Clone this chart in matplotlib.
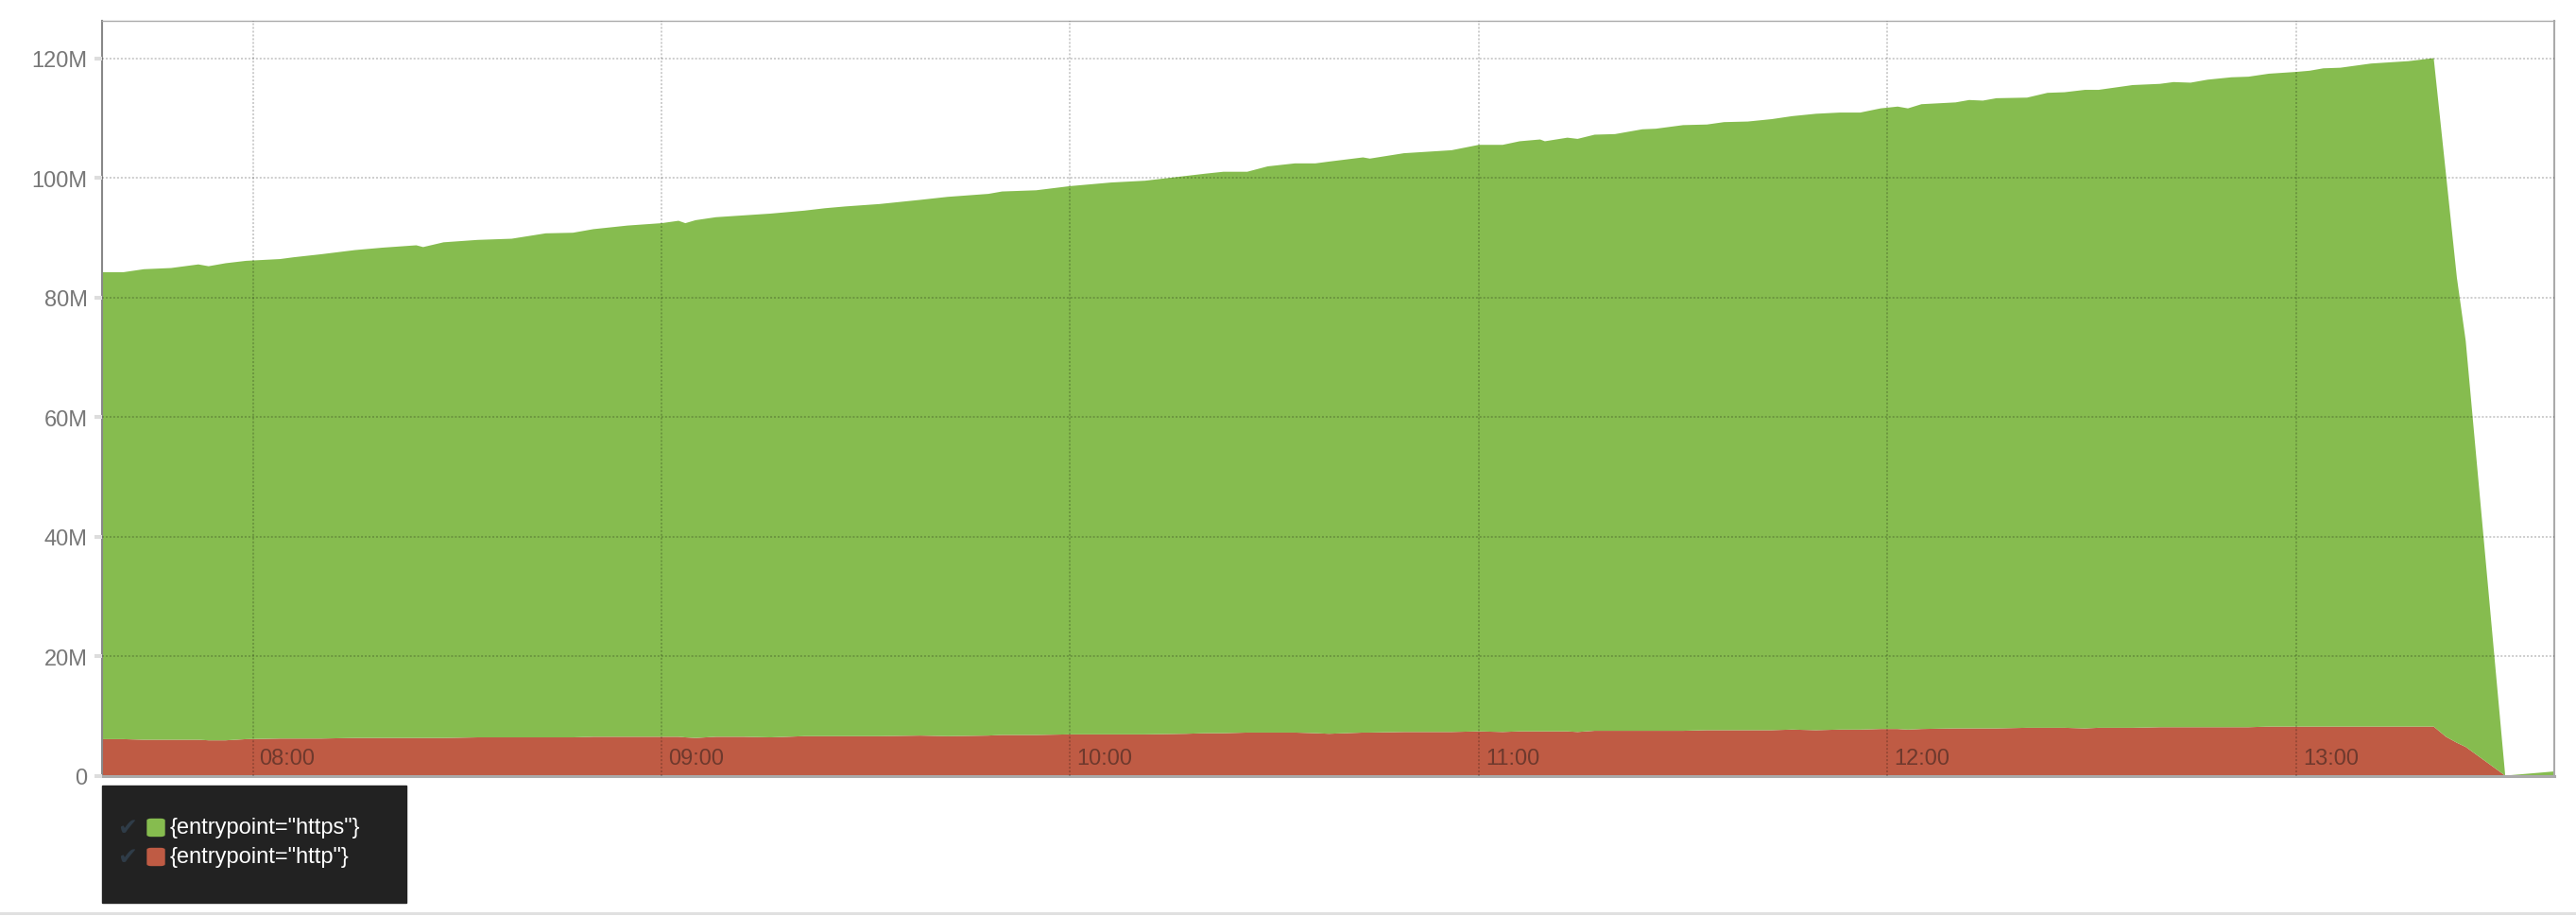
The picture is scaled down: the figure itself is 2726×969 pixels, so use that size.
"""
Stacked area chart of requests per entrypoint (https / http), Prometheus style.

Output: out.png
"""
import matplotlib
matplotlib.use("Agg")
import matplotlib.pyplot as plt
import matplotlib.patches as mpatches
from matplotlib.lines import Line2D
from matplotlib.transforms import ScaledTranslation
from matplotlib.ticker import FuncFormatter

plt.rcParams['font.family'] = ['Liberation Sans', 'DejaVu Sans']

# Sample times, minutes after midnight
minutes = [
    457.9, 461, 464, 468, 472, 473.5, 476, 479, 484, 486,
    490, 495, 499, 504, 505, 508, 513, 518, 523, 527,
    530, 535, 540, 542.5, 543.5, 545, 548, 552, 556, 561,
    564, 567, 572, 578, 582, 588, 590, 595, 600, 606,
    611, 617, 620, 622.5, 626, 629, 633, 636, 638, 643,
    644, 649, 656, 660, 663.5, 666, 669, 669.7, 673, 674.5,
    677, 680, 684, 686, 690, 693.5, 696, 699.5, 703, 706,
    709.5, 713, 716, 719, 721.5, 723, 725, 730, 732, 734,
    736, 740.5, 743.5, 746, 749, 751, 756, 760, 762, 764.5,
    767, 770.5, 773, 776, 780, 782, 784, 786.5, 791, 796.5,
    800.2, 802, 803.6, 804.9, 810.7, 817.9,
]

# {entrypoint="http"} in millions
http_m = [
    6.1, 6.1, 6.0, 6.0, 6.0, 5.9, 5.9, 6.1, 6.2, 6.2,
    6.2, 6.3, 6.3, 6.3, 6.3, 6.3, 6.4, 6.4, 6.4, 6.4,
    6.5, 6.5, 6.5, 6.5, 6.4, 6.3, 6.5, 6.5, 6.4, 6.6,
    6.6, 6.6, 6.6, 6.7, 6.6, 6.7, 6.8, 6.8, 6.9, 6.9,
    6.9, 7.0, 7.1, 7.1, 7.2, 7.2, 7.2, 7.1, 7.0, 7.2,
    7.2, 7.3, 7.3, 7.4, 7.3, 7.4, 7.4, 7.4, 7.4, 7.3,
    7.5, 7.5, 7.5, 7.5, 7.5, 7.6, 7.6, 7.6, 7.6, 7.7,
    7.6, 7.7, 7.7, 7.8, 7.8, 7.7, 7.8, 7.9, 7.9, 7.9,
    7.9, 8.0, 8.0, 8.0, 7.9, 8.0, 8.0, 8.1, 8.1, 8.1,
    8.1, 8.1, 8.1, 8.2, 8.2, 8.2, 8.2, 8.2, 8.2, 8.2,
    8.2, 6.5, 5.5, 4.8, 0.0, 0.0,
]

# {entrypoint="https"} in millions
https_m = [
    78.1, 78.1, 78.7, 78.9, 79.5, 79.3, 79.8, 80.0, 80.2, 80.5,
    81.0, 81.6, 82.0, 82.4, 82.1, 82.9, 83.2, 83.4, 84.3, 84.4,
    84.9, 85.5, 85.9, 86.3, 86.0, 86.6, 86.9, 87.2, 87.6, 87.9,
    88.3, 88.6, 89.0, 89.6, 90.2, 90.6, 90.9, 91.1, 91.7, 92.3,
    92.6, 93.3, 93.6, 93.9, 93.8, 94.7, 95.2, 95.3, 95.7, 96.2,
    96.0, 96.8, 97.3, 98.1, 98.2, 98.7, 99.0, 98.7, 99.3, 99.2,
    99.7, 99.8, 100.6, 100.7, 101.3, 101.3, 101.7, 101.8, 102.2, 102.6,
    103.1, 103.2, 103.2, 103.8, 104.1, 103.9, 104.5, 104.7, 105.1, 105.0,
    105.4, 105.4, 106.2, 106.3, 106.8, 106.7, 107.5, 107.6, 107.9, 107.8,
    108.3, 108.7, 108.8, 109.2, 109.5, 109.7, 110.1, 110.2, 110.9, 111.3,
    111.8, 94.1, 77.8, 67.9, 0.0, 0.7,
]

series_labels = ['{entrypoint="https"}', '{entrypoint="http"}']

hour_ticks = [480, 540, 600, 660, 720, 780]
hour_labels = ['08:00', '09:00', '10:00', '11:00', '12:00', '13:00']
y_ticks = [0, 20, 40, 60, 80, 100, 120]

GREEN = '#86bc4f'
RED = '#bf5b44'

W, H, DPI = 2726, 970, 100
fig = plt.figure(figsize=(W / DPI, H / DPI), dpi=DPI)
ax = fig.add_axes([108.3 / W, 1 - 821.5 / H, (2703 - 108.3) / W, (821.5 - 23.3) / H])

ax.stackplot(minutes, http_m, https_m, colors=[RED, GREEN], linewidth=0)

ax.set_xlim(minutes[0], minutes[-1])
ax.set_ylim(0, 126.2)

# grid drawn over the areas with translucent black, 2px dots / 2px gaps
# (alpha must be given on its own: grid.alpha would override an RGBA colour)
ax.set_axisbelow(False)
ax.set_xticks(hour_ticks, hour_labels)
ax.set_yticks(y_ticks)
ax.yaxis.set_major_formatter(FuncFormatter(lambda v, _: '0' if v == 0 else f'{int(v)}M'))
grid_style = dict(color='black', alpha=0.25, linestyle=(0, (1.3, 1.3)), linewidth=1.1)
ax.grid(axis='x', **grid_style)
ax.grid(axis='y', **grid_style)
for gl in ax.get_ygridlines()[:1]:
    gl.set_visible(False)

ax.tick_params(axis='y', length=5.8, width=2.9, color='#dddddd', pad=5.5,
               labelsize=17, labelcolor='#777777')
ax.tick_params(axis='x', length=0, pad=-8.8, labelsize=17, labelcolor='#6e392d')
shift = ScaledTranslation(7 / DPI, 0, fig.dpi_scale_trans)
for lbl in ax.get_xticklabels():
    lbl.set_ha('left')
    lbl.set_va('baseline')
    lbl.set_transform(lbl.get_transform() + shift)

ax.spines['left'].set_color('#888888')
ax.spines['left'].set_linewidth(1.5)
ax.spines['bottom'].set_color('#aaaaaa')
ax.spines['bottom'].set_linewidth(2.2)
ax.spines['top'].set_color('#aaaaaa')
ax.spines['top'].set_linewidth(1.0)
ax.spines['right'].set_color('#aaaaaa')
ax.spines['right'].set_linewidth(1.5)

# legend box under the plot
fig.patches.append(mpatches.Rectangle((108.3 / W, 1 - 956 / H), 321.7 / W, 123.7 / H,
                                      transform=fig.transFigure, color='#222222'))
row_y = [876.5, 907.5]
for (y_px, label, color) in zip(row_y, series_labels, [GREEN, RED]):
    fy = 1 - y_px / H
    fig.text(135 / W, fy, '\u2714', color='#2f3c48', fontsize=18,
             family='DejaVu Sans', ha='center', va='center')
    fig.patches.append(mpatches.FancyBboxPatch(
        (156 / W, 1 - (y_px + 9) / H), 18 / W, 18 / H,
        boxstyle='round,pad=0,rounding_size=0.0015', transform=fig.transFigure,
        facecolor=color, edgecolor=color, linewidth=1))
    fig.text(180 / W, fy, label, color='white', fontsize=17, ha='left', va='center')

# thin light rule at the very bottom
fig.lines.append(Line2D([0, 1], [1 - 966.5 / H, 1 - 966.5 / H], transform=fig.transFigure,
                        color='#e0e0e0', linewidth=2.2))

fig.savefig('out.png', dpi=DPI)
